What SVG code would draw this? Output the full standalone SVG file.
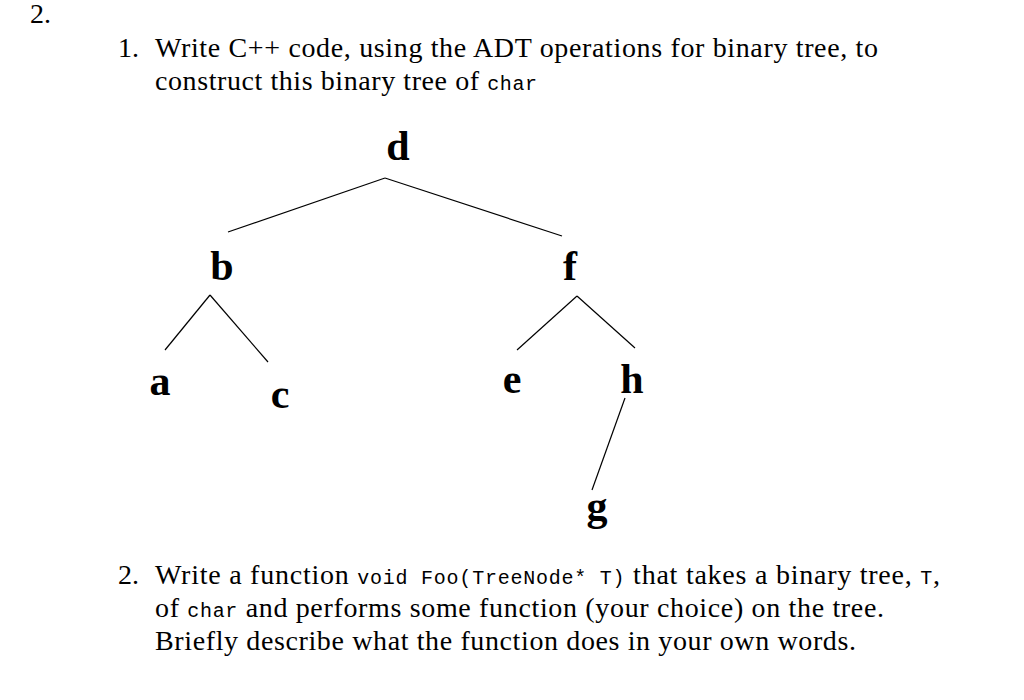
<svg xmlns="http://www.w3.org/2000/svg" width="1024" height="700" viewBox="0 0 1024 700">
<style>
.t{font-family:"Liberation Serif",serif;font-size:28px;fill:#000}
.m{font-family:"Liberation Mono",monospace;font-size:20px}
.n{font-family:"Liberation Serif",serif;font-size:42px;font-weight:bold;fill:#000;text-anchor:middle}
.e{stroke:#000;stroke-width:1.2;fill:none}
</style>
<rect width="1024" height="700" fill="#fff"/>
<text class="t" x="30" y="23">2.</text>
<text class="t" x="118" y="57">1.</text>
<text class="t" x="155" y="57" textLength="723" lengthAdjust="spacing">Write C++ code, using the ADT operations for binary tree, to</text>
<text class="t" x="155" y="90" textLength="382" lengthAdjust="spacing">construct this binary tree of <tspan class="m">char</tspan></text>
<g id="connectors">
<line class="e" x1="385" y1="178" x2="228" y2="232"/>
<line class="e" x1="385" y1="178" x2="562" y2="236"/>
<line class="e" x1="210" y1="295" x2="165" y2="350"/>
<line class="e" x1="210" y1="295" x2="268" y2="362"/>
<line class="e" x1="577" y1="296" x2="517" y2="350"/>
<line class="e" x1="577" y1="296" x2="635" y2="348"/>
<line class="e" x1="625" y1="398" x2="592" y2="490"/>
</g>
<g id="d"><text class="n" x="398" y="160">d</text></g>
<g id="b"><text class="n" x="222" y="280">b</text></g>
<g id="f"><text class="n" x="570" y="280">f</text></g>
<g id="a"><text class="n" x="160" y="395">a</text></g>
<g id="c"><text class="n" x="280" y="408">c</text></g>
<g id="e"><text class="n" x="512" y="393">e</text></g>
<g id="h"><text class="n" x="632" y="393">h</text></g>
<g id="g"><text class="n" x="597" y="520">g</text></g>
<text class="t" x="118" y="584">2.</text>
<text class="t" x="155" y="584" textLength="785" lengthAdjust="spacing">Write a function <tspan class="m">void Foo(TreeNode* T)</tspan> that takes a binary tree, <tspan class="m">T</tspan>,</text>
<text class="t" x="155" y="617" textLength="729" lengthAdjust="spacing">of <tspan class="m">char</tspan> and performs some function (your choice) on the tree.</text>
<text class="t" x="155" y="650" textLength="701" lengthAdjust="spacing">Briefly describe what the function does in your own words.</text>
</svg>
